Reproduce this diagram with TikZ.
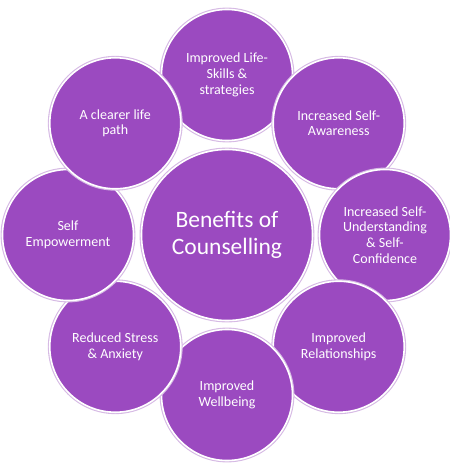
\documentclass[tikz,border=0pt]{standalone}
\usepackage{fontspec}
\setmainfont{Carlito}
\definecolor{mPurple}{RGB}{155,74,192}
\definecolor{mHalo}{RGB}{214,186,228}
\usepackage{tikz}
\usetikzlibrary{positioning}

\tikzset{
  benefit/.style={circle, fill=mPurple, draw=white, line width=1.6pt,
    preaction={draw=mHalo, line width=3.8pt},
    minimum size=131pt, inner sep=0pt, align=center, text=white,
    font=\fontsize{14}{15.8}\selectfont},
  hub/.style={benefit, minimum size=171pt,
    font=\fontsize{23.5}{27}\selectfont}
}

\begin{document}
\begin{tikzpicture}
    \useasboundingbox (-227pt,-234pt) rectangle (223pt,235pt);
    % outer ring, each one laid over the one before
    \node[benefit] (lifeskills) at (90:160pt) {Improved Life-\\Skills \&\\strategies};
    \node[benefit] (awareness) at (45:158pt) {Increased Self-\\Awareness};
    \node[benefit] (understanding) at (0:158pt) {Increased Self-\\Understanding\\\& Self-\\Confidence};
    \node[benefit] (relations) at (-45:158pt) {Improved\\Relationships};
    \node[benefit] (wellbeing) at (-90:160pt) {Improved\\Wellbeing};
    \node[benefit] (stress) at (-135:158pt) {Reduced Stress\\\& Anxiety};
    \node[benefit] (empower) at (180:159pt) {Self\\Empowerment};
    \node[benefit] (lifepath) at (135:158pt) {A clearer life\\path};
    % centre
    \node[hub] (ctr) at (0,0) {Benefits of\\Counselling};
\end{tikzpicture}
\end{document}
